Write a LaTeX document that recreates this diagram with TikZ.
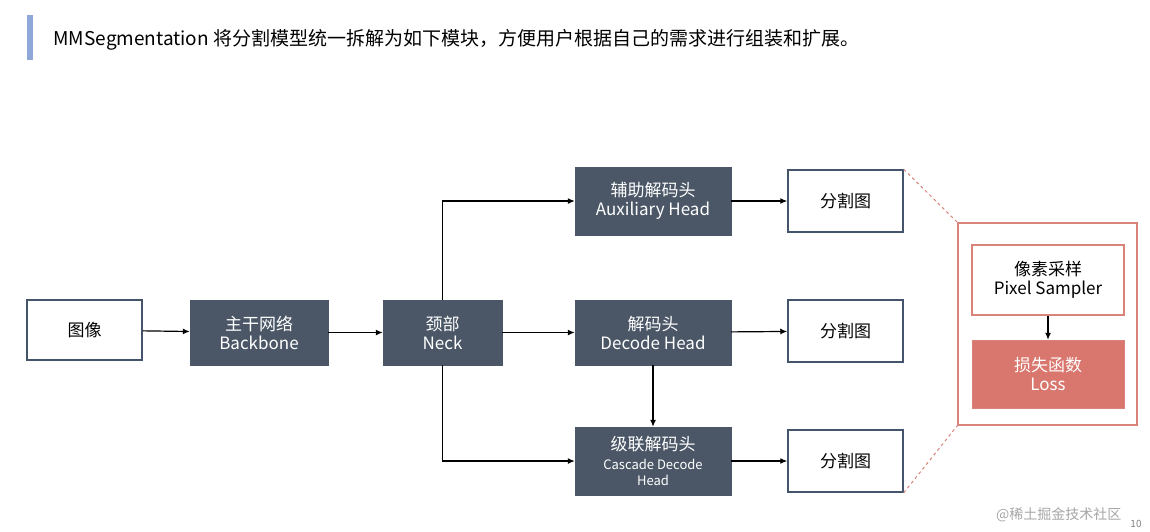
\documentclass[tikz,border=0pt]{standalone}
\usepackage{fontspec}
\setmainfont{Noto Sans CJK SC}
\usetikzlibrary{arrows.meta}
\definecolor{dk}{HTML}{4B5767}
\definecolor{bd}{HTML}{44546A}
\definecolor{sal}{HTML}{D9837B}
\definecolor{lossf}{HTML}{D9776E}
\definecolor{barc}{HTML}{8FA8D8}
\begin{document}
\begin{tikzpicture}[x=1pt,y=-1pt,
 dbox/.style={draw=dk,fill=dk,text=white,align=center,font=\fontsize{17}{19}\selectfont,inner sep=0},
 wbox/.style={draw=bd,line width=1.5pt,fill=white,align=center,font=\fontsize{17}{19}\selectfont,inner sep=0},
 arr/.style={-{Latex[length=7pt,width=6pt]},line width=1.2pt}]
\useasboundingbox (0,0) rectangle (1150,531);
\fill[barc] (27,15) rectangle (33,60);
\node[anchor=west,font=\fontsize{19}{22}\selectfont] (title) at (50,40) {MMSegmentation 将分割模型统一拆解为如下模块，方便用户根据自己的需求进行组装和扩展。};
\node[wbox,minimum width=115,minimum height=60] (img) at (84.5,330) {图像};
\node[dbox,minimum width=138,minimum height=65] (bb) at (259,332.5) {主干网络\\Backbone};
\node[dbox,minimum width=119,minimum height=65] (neck) at (442.5,332.5) {颈部\\Neck};
\node[dbox,minimum width=156,minimum height=68] (aux) at (653,201) {辅助解码头\\Auxiliary Head};
\node[dbox,minimum width=156,minimum height=65] (dec) at (653,332.5) {解码头\\Decode Head};
\node[dbox,minimum width=156,minimum height=68] (cas) at (653,461) {级联解码头\\{\fontsize{13}{15}\selectfont Cascade Decode}\\[-3pt]{\fontsize{13}{15}\selectfont Head}};
\node[wbox,minimum width=115,minimum height=62] (s1) at (845.5,201) {分割图};
\node[wbox,minimum width=115,minimum height=62] (s2) at (845.5,331) {分割图};
\node[wbox,minimum width=115,minimum height=62] (s3) at (845.5,461) {分割图};
\node[draw=sal,line width=1.5pt,minimum width=179,minimum height=202,inner sep=0] (outer) at (1047.5,324) {};
\node[draw=sal,line width=1.5pt,fill=white,minimum width=152,minimum height=70,align=center,inner sep=0,font=\fontsize{17}{19}\selectfont] (ps) at (1048,280) {像素采样\\Pixel Sampler};
\node[draw=sal,fill=lossf,text=white,minimum width=152,minimum height=68,align=center,inner sep=0,font=\fontsize{17}{19}\selectfont] (loss) at (1048,374) {损失函数\\Loss};
\draw[arr] (img) -- (bb);
\draw[arr] (bb) -- (neck);
\draw[arr] (neck) -- (dec);
\draw[arr] (neck.north) |- (aux.west);
\draw[arr] (neck.south) |- (cas.west);
\draw[arr] (dec) -- (cas);
\draw[arr] (aux) -- (s1);
\draw[arr] (dec) -- (s2);
\draw[arr] (cas) -- (s3);
\draw[arr] (ps) -- (loss);
\draw[sal,dashed,line width=1pt] (s1.north east) -- (outer.north west);
\draw[sal,dashed,line width=1pt] (s3.south east) -- (outer.south west);
\node[anchor=east,text=gray!70,font=\fontsize{14}{16}\selectfont] (wm) at (1125,515) {@稀土掘金技术社区};
\node[text=gray,font=\fontsize{10}{12}\selectfont] (pg) at (1136,524) {10};
\end{tikzpicture}
\end{document}
